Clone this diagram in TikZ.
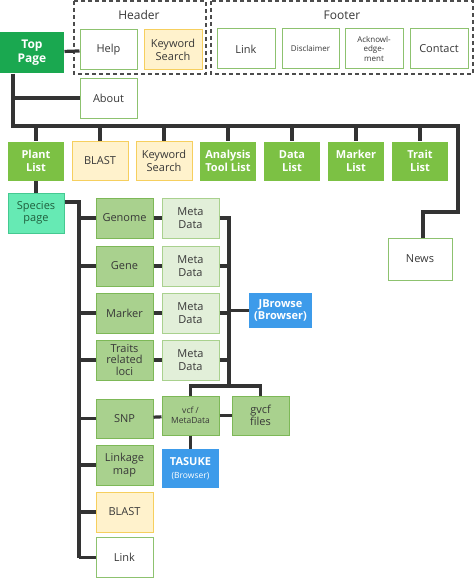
\documentclass[tikz,border=0pt]{standalone}
\usepackage{fontspec}
\setmainfont{Open Sans}
\definecolor{topgreen}{HTML}{1AA850}
\definecolor{lime}{HTML}{7CC144}
\definecolor{midgreen}{HTML}{A9D18E}
\definecolor{midedge}{HTML}{7DB857}
\definecolor{palegreen}{HTML}{E2EFD9}
\definecolor{paleedge}{HTML}{A9D18E}
\definecolor{wedge}{HTML}{8DC26F}
\definecolor{yfill}{HTML}{FFF2CC}
\definecolor{yedge}{HTML}{F6CF5E}
\definecolor{bluebox}{HTML}{3D9BEA}
\definecolor{mint}{HTML}{66EAB4}
\definecolor{mintedge}{HTML}{45C991}
\definecolor{minttext}{HTML}{1F5E3C}
\definecolor{txt}{HTML}{383838}
\definecolor{wire}{HTML}{333333}
\tikzset{
  box/.style={draw, line width=1pt, minimum width=57, minimum height=40,
    align=center, inner sep=1pt, font=\fontsize{11}{12.5}\selectfont, text=txt},
  topbox/.style={box, draw=none, fill=topgreen, text=white, minimum width=64,
    minimum height=41, font=\fontsize{12}{14}\selectfont\bfseries},
  listbox/.style={box, draw=none, fill=lime, text=white, minimum width=56,
    minimum height=39, font=\fontsize{11}{13}\selectfont\bfseries},
  whitebox/.style={box, draw=wedge, fill=white},
  yellowbox/.style={box, draw=yedge, fill=yfill},
  datbox/.style={box, draw=midedge, fill=midgreen},
  metabox/.style={box, draw=paleedge, fill=palegreen},
  bluenode/.style={box, draw=none, fill=bluebox, text=white, font=\fontsize{11}{12.5}\selectfont\bfseries},
  specbox/.style={box, draw=mintedge, fill=mint, text=minttext, minimum width=56},
  framebox/.style={draw=black!70, line width=1.2pt, dash pattern=on 4pt off 3pt},
  wire/.style={draw=wire, line width=3.2pt},
}
\begin{document}
\begin{tikzpicture}[x=1pt,y=-1pt]
\useasboundingbox (0,0) rectangle (474,578);
% header and footer frames
\draw[framebox] (74,1) rectangle (206,74);
\draw[framebox] (211,1) rectangle (473,74);
\node[text=txt, font=\fontsize{12}{14}\selectfont] (headertitle) at (139,15) {Header};
\node[text=txt, font=\fontsize{12}{14}\selectfont] (footertitle) at (342,15) {Footer};

% top row
\node[topbox] (top) at (32,52.5) {Top\\Page};
\node[whitebox] (help) at (108.5,50) {Help};
\node[yellowbox, minimum width=58] (kwhead) at (173,50) {Keyword\\Search};
\node[whitebox, minimum width=58] (flink) at (246,49) {Link};
\node[whitebox, font=\fontsize{8}{9.5}\selectfont] (discl) at (310.5,49) {Disclaimer};
\node[whitebox, minimum width=58, font=\fontsize{8}{9.5}\selectfont] (ack) at (374,49) {Acknowl-\\edge-\\ment};
\node[whitebox, minimum width=58] (contact) at (439,49) {Contact};
\node[whitebox] (about) at (108.5,98) {About};

% second row
\node[listbox] (plant) at (36,161) {Plant\\List};
\node[yellowbox, minimum width=56, minimum height=39] (blast) at (100,161) {BLAST};
\node[yellowbox, minimum width=56, minimum height=39] (kwsearch) at (164,161) {Keyword\\Search};
\node[listbox] (analysis) at (228,161) {Analysis\\Tool List};
\node[listbox] (data) at (292,161) {Data\\List};
\node[listbox] (marker) at (356,161) {Marker\\List};
\node[listbox] (trait) at (420,161) {Trait\\List};
\node[whitebox, minimum width=64, minimum height=42] (news) at (420,259) {News};

% species page
\node[specbox] (species) at (36,213) {Species\\page};
\node[datbox] (genome) at (124.5,218) {Genome};
\node[datbox] (gene) at (124.5,266) {Gene};
\node[datbox] (smarker) at (124.5,313) {Marker};
\node[datbox, font=\fontsize{11}{11.5}\selectfont] (traits) at (124.5,360) {Traits\\related\\loci};
\node[datbox, minimum height=39] (snp) at (124.5,418.5) {SNP};
\node[datbox] (linkage) at (124.5,465) {Linkage\\map};
\node[yellowbox] (sblast) at (124.5,512) {BLAST};
\node[whitebox] (slink) at (124.5,557.5) {Link};
\node[metabox] (meta1) at (190.5,218) {Meta\\Data};
\node[metabox] (meta2) at (190.5,266) {Meta\\Data};
\node[metabox] (meta3) at (190.5,313) {Meta\\Data};
\node[metabox] (meta4) at (190.5,360) {Meta\\Data};
\node[bluenode, minimum width=63, minimum height=35] (jbrowse) at (280.5,310.5) {JBrowse\\(Browser)};
\node[datbox, minimum height=39, font=\fontsize{8.5}{10}\selectfont] (vcf) at (190.5,415.5) {vcf /\\MetaData};
\node[datbox, minimum height=39] (gvcf) at (260.5,415.5) {gvcf\\files};
\node[bluenode, minimum height=39] (tasuke) at (190.5,468.5) {TASUKE\\{\fontsize{8.5}{10}\selectfont\mdseries(Browser)}};

% connectors
\coordinate (tk) at (13,126);
\coordinate (ne) at (458,126);
\draw[wire] (top) -- (help);
\draw[wire] (top.south -| tk) -- (tk) -- (ne) -- ++(0,86) -| ([xshift=3]news.north);
\draw[wire] (tk |- about) -- (about.west);
\foreach \n in {plant,blast,kwsearch,analysis,data,marker,trait}
  \draw[wire] (\n.north |- tk) -- (\n.north);
\draw[wire] (plant) -- (species);
\coordinate (sp) at (79,202);
\draw[wire] (species.east |- sp) -- (sp) -- (sp |- slink);
\foreach \n in {genome,gene,smarker,traits,snp,linkage,sblast,slink}
  \draw[wire] (sp |- \n) -- (\n.west);
\draw[wire] (genome) -- (meta1);
\draw[wire] (gene) -- (meta2);
\draw[wire] (smarker) -- (meta3);
\draw[wire] (traits) -- (meta4);
\coordinate (mt) at (229,218);
\coordinate (mb) at (229,386);
\draw[wire] (meta1.east) -- (mt) -- (mb);
\foreach \n in {meta2,meta3,meta4}
  \draw[wire] (\n.east) -- (mt |- \n);
\draw[wire] (mt |- jbrowse) -- (jbrowse.west);
\draw[wire] (vcf.north) -- (vcf.north |- mb) -- (gvcf.north |- mb) -- (gvcf.north);
\draw[wire] (snp) -- (vcf);
\draw[wire] (vcf) -- (gvcf);
\draw[wire] (vcf) -- (tasuke);
\end{tikzpicture}
\end{document}
